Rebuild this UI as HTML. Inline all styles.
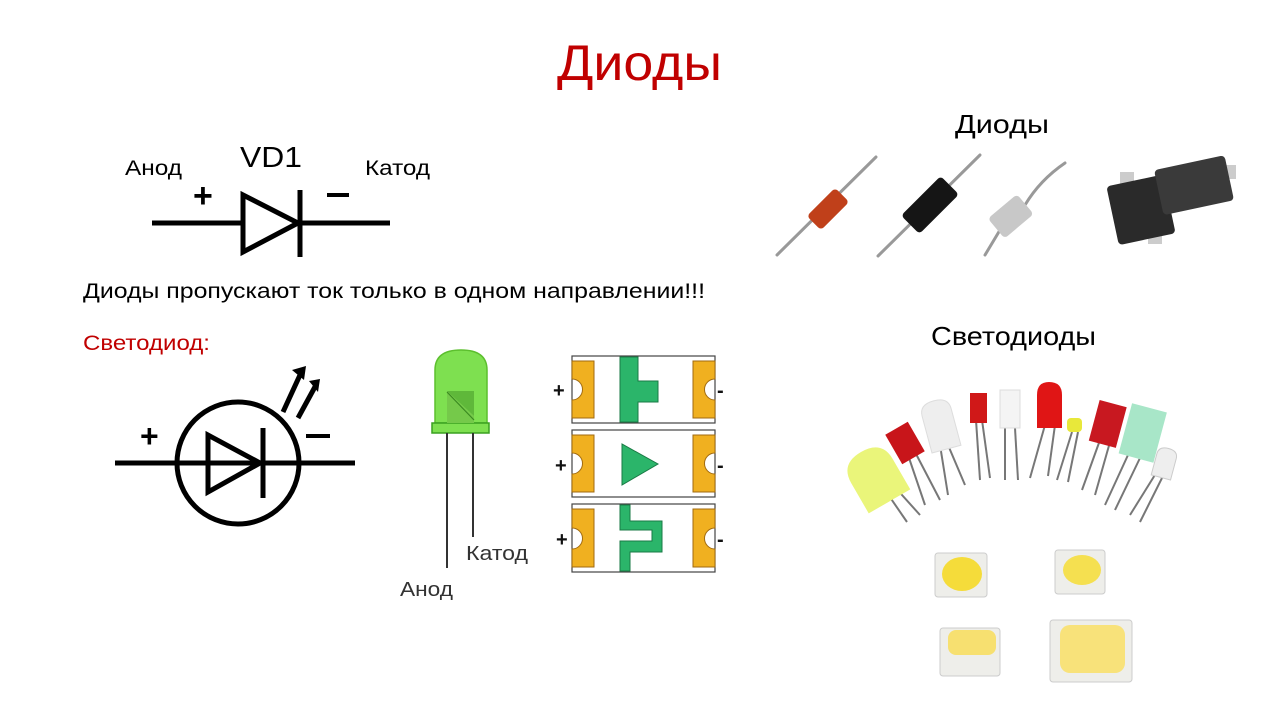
<!DOCTYPE html>
<html><head><meta charset="utf-8"><style>
html,body{margin:0;padding:0;background:#fff}
svg{display:block}
text{font-family:"Liberation Sans","DejaVu Sans",sans-serif}
</style></head><body>
<svg width="1280" height="720" viewBox="0 0 1280 720" xmlns="http://www.w3.org/2000/svg">
<rect width="1280" height="720" fill="#fff"/>
<text x="557" y="80" font-size="50" fill="#c00000" textLength="165" lengthAdjust="spacingAndGlyphs">Диоды</text>

<!-- diode symbol -->
<g stroke="#000" stroke-width="5" fill="none">
<line x1="152" y1="223" x2="390" y2="223"/>
<polygon points="243,195 243,252 298,223" fill="#fff"/>
<line x1="300" y1="190" x2="300" y2="257"/>
</g>
<text x="125" y="175" font-size="21" textLength="57" lengthAdjust="spacingAndGlyphs">Анод</text>
<text x="240" y="167" font-size="29" textLength="62" lengthAdjust="spacingAndGlyphs">VD1</text>
<text x="365" y="175" font-size="21" textLength="65" lengthAdjust="spacingAndGlyphs">Катод</text>
<text x="193" y="207" font-size="34" font-weight="bold">+</text>
<rect x="327" y="193" width="22" height="4" fill="#000"/>
<text x="83" y="298" font-size="21" textLength="622" lengthAdjust="spacingAndGlyphs">Диоды пропускают ток только в одном направлении!!!</text>
<text x="83" y="350" font-size="21" fill="#c00000" textLength="127" lengthAdjust="spacingAndGlyphs">Светодиод:</text>

<!-- LED symbol -->
<g stroke="#000" stroke-width="5" fill="none">
<line x1="115" y1="463" x2="355" y2="463"/>
<circle cx="238" cy="463" r="61"/>
<polygon points="208,435 208,492 260,463"/>
<line x1="263" y1="428" x2="263" y2="498"/>
<line x1="283" y1="412" x2="300" y2="375"/>
<line x1="298" y1="418" x2="316" y2="385"/>
</g>
<polygon points="292,370 306,366 304,380" fill="#000"/>
<polygon points="309,381 320,379 318,392" fill="#000"/>
<text x="140" y="447" font-size="32" font-weight="bold">+</text>
<rect x="306" y="434" width="24" height="4" fill="#000"/>

<!-- LED picture -->
<path d="M435,423 L435,370 Q435,350 461,350 Q487,350 487,370 L487,423 Z" fill="#7ee050" stroke="#5cbf2e" stroke-width="1.5"/>
<rect x="432" y="423" width="57" height="10" fill="#7ee050" stroke="#3aa020" stroke-width="1.5"/>
<polygon points="447,391 474,391 474,416" fill="#5fb83a"/>
<polygon points="447,391 447,423 474,423 474,416" fill="#75c94a"/>
<line x1="447" y1="392" x2="474" y2="420" stroke="#3a8a20" stroke-width="1.2"/>
<line x1="447" y1="433" x2="447" y2="568" stroke="#333" stroke-width="2"/>
<line x1="473" y1="433" x2="473" y2="537" stroke="#333" stroke-width="2"/>
<text x="466" y="560" font-size="20" fill="#333" textLength="62" lengthAdjust="spacingAndGlyphs">Катод</text>
<text x="400" y="596" font-size="20" fill="#333" textLength="53" lengthAdjust="spacingAndGlyphs">Анод</text>

<!-- SMD boxes -->
<g stroke="#444" stroke-width="1.2">
<rect x="572" y="356" width="143" height="67" fill="#fff"/>
<rect x="572" y="430" width="143" height="67" fill="#fff"/>
<rect x="572" y="504" width="143" height="68" fill="#fff"/>
</g>
<g fill="#f0b020" stroke="#a06a10" stroke-width="1">
<path d="M572,361 h22 v57 h-22 v-18 a10,10 0 0 0 0,-21 z"/>
<path d="M715,361 h-22 v57 h22 v-18 a10,10 0 0 1 0,-21 z"/>
<path d="M572,435 h22 v57 h-22 v-18 a10,10 0 0 0 0,-21 z"/>
<path d="M715,435 h-22 v57 h22 v-18 a10,10 0 0 1 0,-21 z"/>
<path d="M572,509 h22 v58 h-22 v-18 a10,10 0 0 0 0,-21 z"/>
<path d="M715,509 h-22 v58 h22 v-18 a10,10 0 0 1 0,-21 z"/>
</g>
<g fill="#2bb56a" stroke="#1a7a45" stroke-width="1">
<path d="M620,357 h18 v24 h20 v21 h-20 v20 h-18 z"/>
<polygon points="622,444 622,485 658,464"/>
<path d="M620,505 h10 v16 h32 v31 h-32 v19 h-10 v-30 h32 v-11 h-32 z"/>
</g>
<g font-size="20" font-weight="bold" fill="#111">
<text x="553" y="397">+</text><text x="555" y="472">+</text><text x="556" y="546">+</text>
<text x="717" y="397">-</text><text x="717" y="472">-</text><text x="717" y="546">-</text>
</g>

<!-- Right side -->
<text x="955" y="133" font-size="26" textLength="94" lengthAdjust="spacingAndGlyphs">Диоды</text>
<text x="931" y="345" font-size="26" textLength="165" lengthAdjust="spacingAndGlyphs">Светодиоды</text>

<!-- diode photos -->
<g stroke="#999" stroke-width="3" stroke-linecap="round">
<line x1="777" y1="255" x2="876" y2="157"/>
<line x1="878" y1="256" x2="980" y2="155"/>
<line x1="985" y1="255" x2="1000" y2="230"/>
<path d="M1025,205 Q1040,180 1065,163" fill="none"/>
</g>
<g transform="rotate(-45 828 209)"><rect x="808" y="199" width="40" height="20" rx="4" fill="#c0401a"/></g>
<g transform="rotate(-45 930 205)"><rect x="902" y="192" width="56" height="26" rx="4" fill="#151515"/></g>
<g transform="rotate(-40 1010 217)"><rect x="992" y="204" width="38" height="26" rx="4" fill="#c8c8c8"/></g>
<rect x="1120" y="172" width="14" height="12" fill="#ccc"/>
<rect x="1148" y="232" width="14" height="12" fill="#ccc"/>
<rect x="1222" y="165" width="14" height="14" fill="#ccc"/>
<g transform="rotate(-12 1140 210)"><rect x="1112" y="180" width="58" height="60" rx="4" fill="#2a2a2a"/></g>
<g transform="rotate(-12 1195 185)"><rect x="1158" y="162" width="72" height="46" rx="4" fill="#3a3a3a"/></g>

<!-- LEDs -->
<g stroke="#777" stroke-width="2">
<line x1="885" y1="490" x2="907" y2="522"/><line x1="893" y1="485" x2="920" y2="515"/>
<line x1="908" y1="455" x2="925" y2="505"/><line x1="915" y1="452" x2="940" y2="500"/>
<line x1="940" y1="445" x2="948" y2="495"/><line x1="948" y1="445" x2="965" y2="485"/>
<line x1="976" y1="420" x2="980" y2="480"/><line x1="982" y1="420" x2="990" y2="478"/>
<line x1="1005" y1="428" x2="1005" y2="480"/><line x1="1015" y1="428" x2="1018" y2="480"/>
<line x1="1045" y1="425" x2="1030" y2="478"/><line x1="1055" y1="425" x2="1048" y2="476"/>
<line x1="1072" y1="432" x2="1057" y2="480"/><line x1="1078" y1="432" x2="1068" y2="482"/>
<line x1="1100" y1="440" x2="1082" y2="490"/><line x1="1110" y1="442" x2="1095" y2="495"/>
<line x1="1128" y1="455" x2="1105" y2="505"/><line x1="1140" y1="458" x2="1115" y2="510"/>
<line x1="1158" y1="470" x2="1130" y2="515"/><line x1="1165" y1="472" x2="1140" y2="522"/>
</g>
<g transform="rotate(-30 876 478)"><path d="M852,505 L852,470 Q852,448 876,448 Q900,448 900,470 L900,505 Z" fill="#eaf57a"/></g>
<g transform="rotate(-30 905 443)"><rect x="892" y="426" width="26" height="34" fill="#c8151a"/></g>
<g transform="rotate(-15 940 425)"><path d="M925,450 L925,412 Q925,400 940,400 Q955,400 955,412 L955,450 Z" fill="#eeeeee" stroke="#ddd"/></g>
<rect x="970" y="393" width="17" height="30" fill="#d01818"/>
<rect x="1000" y="390" width="20" height="38" fill="#f4f4f4" stroke="#ddd"/>
<path d="M1037,428 L1037,395 Q1037,382 1049,382 Q1062,382 1062,395 L1062,428 Z" fill="#e01515"/>
<rect x="1067" y="418" width="15" height="14" rx="4" fill="#e8e83a"/>
<g transform="rotate(15 1108 423)"><rect x="1094" y="403" width="28" height="42" fill="#c81820"/></g>
<g transform="rotate(15 1143 432)"><rect x="1125" y="407" width="36" height="52" fill="#a8e6c8"/></g>
<g transform="rotate(15 1165 462)"><path d="M1155,478 L1155,456 Q1155,448 1165,448 Q1175,448 1175,456 L1175,478 Z" fill="#eeeeee" stroke="#ccc"/></g>

<!-- SMD LEDs -->
<rect x="935" y="553" width="52" height="44" rx="3" fill="#eeeeea" stroke="#ccc"/>
<ellipse cx="962" cy="574" rx="20" ry="17" fill="#f5dc3a"/>
<rect x="1055" y="550" width="50" height="44" rx="3" fill="#eeeeea" stroke="#ccc"/>
<ellipse cx="1082" cy="570" rx="19" ry="15" fill="#f5e050"/>
<rect x="940" y="628" width="60" height="48" rx="3" fill="#eeeeea" stroke="#ccc"/>
<rect x="948" y="630" width="48" height="25" rx="8" fill="#f7e070"/>
<rect x="1050" y="620" width="82" height="62" rx="3" fill="#eeeeea" stroke="#ccc"/>
<rect x="1060" y="625" width="65" height="48" rx="10" fill="#f8e27a"/>
</svg>
</body></html>
